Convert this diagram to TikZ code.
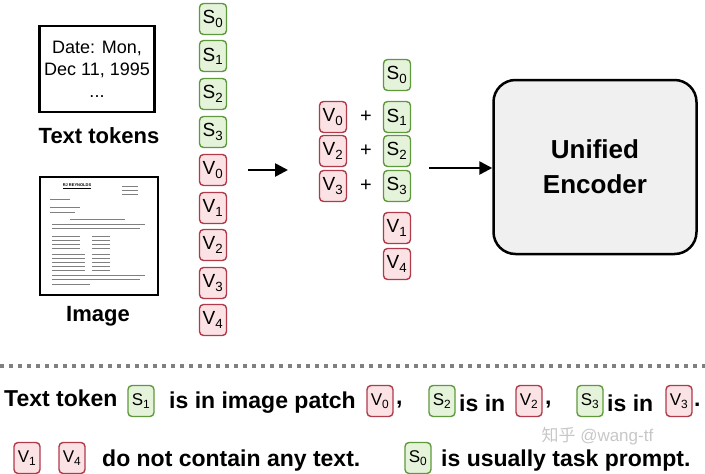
\documentclass[tikz,border=0pt]{standalone}
\usepackage{fontspec}
\setmainfont{Liberation Sans}
\newfontfamily\cjk{Noto Sans CJK SC}
\usetikzlibrary{arrows.meta}
\definecolor{gb}{HTML}{5E9A3C}\definecolor{gf}{HTML}{E5F3DA}
\definecolor{rb}{HTML}{B03A4A}\definecolor{rf}{HTML}{FBE2E4}
\tikzset{
 tok/.style={draw, rounded corners=4pt, line width=1.4pt, minimum width=27pt, minimum height=31pt, inner sep=0pt, font=\fontsize{19}{19}\selectfont},
 st/.style={tok, draw=gb, fill=gf},
 vt/.style={tok, draw=rb, fill=rf},
 sm/.style={minimum width=26pt, minimum height=31pt, font=\fontsize{17}{17}\selectfont},
 lbl/.style={font=\fontsize{22}{22}\selectfont\bfseries, inner sep=0pt},
 blbl/.style={font=\fontsize{23}{23}\selectfont\bfseries, inner sep=0pt, anchor=west},
 arr/.style={-{Triangle[length=13pt,width=13pt]}, line width=2.6pt},
 plus/.style={font=\fontsize{20}{20}\selectfont, inner sep=0pt}
}
\newcommand{\Sx}[1]{S\textsubscript{#1}}
\newcommand{\Vx}[1]{V\textsubscript{#1}}
\begin{document}
\begin{tikzpicture}[x=1pt,y=-1pt]
\useasboundingbox (0,0) rectangle (705,474);
% text box
\node[draw, line width=2.5pt, minimum width=115pt, minimum height=86pt, align=center, font=\fontsize{18}{22}\selectfont] (tb) at (97,69) {Date: Mon,\\Dec 11, 1995\\...};
\node[lbl] (tt) at (99,136) {Text tokens};
% image box
\node[draw, line width=2.5pt, minimum width=118pt, minimum height=118pt, inner sep=0pt] (ib) at (99,236) {};
\node[font=\fontsize{4}{4}\selectfont\bfseries, inner sep=0pt] (rj) at (77,186) {\underline{RJ REYNOLDS}};
\foreach \y/\a/\b in {199/50/70,207/50/80,212/50/75,219/70/125,224/52/145,228/52/140,236/52/80,240/52/80,244/52/80,248/52/80,254/52/85,258/52/85,262/52/85,266/52/85,270/52/85,275/52/145,279/52/140,284/52/90}
  \draw[gray, line width=0.8pt] (\a,\y) -- (\b,\y);
\foreach \y in {236,240,244,248,254,258,262,266,270}
  \draw[gray, line width=0.8pt] (92,\y) -- (110,\y);
\foreach \y in {186,190,194}
  \draw[gray, line width=0.8pt] (122,\y) -- (138,\y);
\node[lbl] (im) at (98,316) {Image};
% left column
\node[st] (s0) at (213,19) {\Sx0};
\node[st] (s1) at (213,56) {\Sx1};
\node[st] (s2) at (213,94) {\Sx2};
\node[st] (s3) at (213,132) {\Sx3};
\node[vt] (v0) at (213,170) {\Vx0};
\node[vt] (v1) at (213,208) {\Vx1};
\node[vt] (v2) at (213,245) {\Vx2};
\node[vt] (v3) at (213,283) {\Vx3};
\node[vt] (v4) at (213,320) {\Vx4};
\coordinate (a1s) at (248,170); \coordinate (a1e) at (288,170);
\draw[arr] (a1s) -- (a1e);
% middle
\node[st] (m0) at (397,75) {\Sx0};
\node[vt] (mv0) at (333,117) {\Vx0};
\node[plus] (p1) at (366,117) {+};
\node[st] (ms1) at (397,117) {\Sx1};
\node[vt] (mv2) at (333,151) {\Vx2};
\node[plus] (p2) at (366,151) {+};
\node[st] (ms2) at (397,151) {\Sx2};
\node[vt] (mv3) at (333,186) {\Vx3};
\node[plus] (p3) at (366,186) {+};
\node[st] (ms3) at (397,186) {\Sx3};
\node[vt] (mv1) at (397,228) {\Vx1};
\node[vt] (mv4) at (397,264) {\Vx4};
\coordinate (a2s) at (429,168);
\node[draw, line width=2.5pt, rounded corners=22pt, fill=black!6, minimum width=203pt, minimum height=174pt, align=center, font=\fontsize{26}{35}\selectfont\bfseries] (enc) at (595,167) {Unified\\Encoder};
\draw[arr] (a2s) -- (enc.west |- a2s);
% dotted line
\draw[gray, line width=4pt, dash pattern=on 4pt off 5pt] (0,366) -- (705,366);
% bottom
\tikzset{bs/.style={st,sm},bv/.style={vt,sm}}
\node[blbl] (l1a) at (4,398) {Text token};
\node[bs] (b1) at (141,401) {\Sx1};
\node[blbl] (l1b) at (169,403) {is in image patch};
\node[bv] (b2) at (380,401) {\Vx0};
\node[blbl] (l1c) at (396,405) {,};
\node[bs] (b3) at (442,401) {\Sx2};
\node[blbl] (l1d) at (459,403) {is in};
\node[bv] (b4) at (529,401) {\Vx2};
\node[blbl] (l1e) at (545,405) {,};
\node[bs] (b5) at (590,401) {\Sx3};
\node[blbl] (l1f) at (607,403) {is in};
\node[bv] (b6) at (679,401) {\Vx3};
\node[blbl] (l1g) at (694,405) {.};
\node[bv] (c1) at (27,458) {\Vx1};
\node[bv] (c2) at (72,458) {\Vx4};
\node[blbl] (l2a) at (102,461) {do not contain any text.};
\node[bs] (c3) at (418,458) {\Sx0};
\node[blbl] (l2b) at (441,461) {is usually task prompt.};
\node[font=\fontsize{17}{17}\selectfont, text=black!22, anchor=west] (wm) at (538,436) {{\cjk 知乎} @wang-tf};
\end{tikzpicture}
\end{document}
